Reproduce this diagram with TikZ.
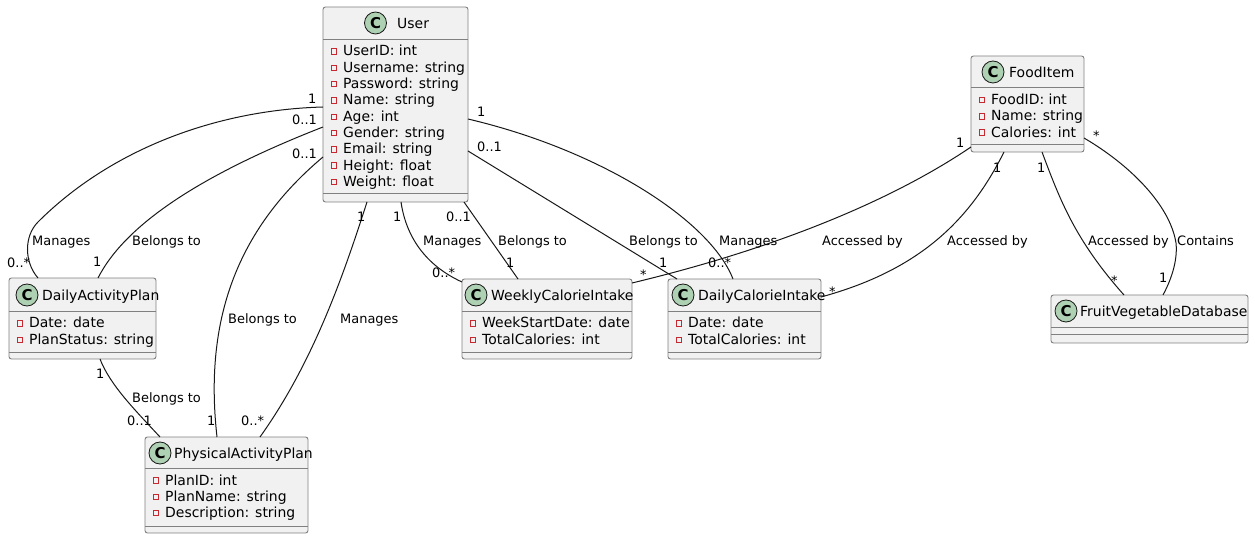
\documentclass[tikz,border=0pt]{standalone}
\usepackage{fontspec}
\setmainfont{DejaVu Sans}
\usetikzlibrary{calc,fit}
\definecolor{boxfill}{HTML}{F1F1F1}
\definecolor{boxline}{HTML}{181818}
\definecolor{boxedge}{HTML}{808080}
\definecolor{circfill}{HTML}{ADD1B2}
\definecolor{privred}{HTML}{C82930}
\newcommand\umlattr[4]{%
  \draw[privicon] (#2+8.25,#3-7.25) rectangle (#2+13.75,#3-1.75);
  \node[attrtxt] (#1) at (#2+20,#3) {#4};}
\newcommand\umlseps[3]{%
  \draw[sepline] ($(#1.north west)+(0,#2)$) -- ($(#1.north east)+(0,#2)$);
  \draw[sepline] ($(#1.north west)+(0,#3)$) -- ($(#1.north east)+(0,#3)$);}
\newcommand\lbl[4]{\node[lbltxt] (#1) at (#2,#3) {#4};}
\begin{document}
\begin{tikzpicture}[x=1bp,y=-1bp,
  clsbox/.style={draw=boxedge, line width=0.9bp, fill=boxfill, rounded corners=2.5bp, inner sep=0pt, outer sep=0pt},
  sepline/.style={draw=boxedge, line width=0.9bp},
  circ/.style={circle, draw=boxline, line width=0.8bp, fill=circfill, minimum size=22bp, inner sep=0pt, font=\fontsize{15}{15}\selectfont\bfseries},
  nametxt/.style={anchor=base west, inner sep=0pt, font=\fontsize{14}{16}\selectfont},
  attrtxt/.style={anchor=base west, inner sep=0pt, font=\fontsize{14}{16}\selectfont},
  privicon/.style={draw=privred, line width=0.8bp},
  lbltxt/.style={anchor=base west, inner sep=0pt, font=\fontsize{13}{15}\selectfont},
  assoc/.style={draw=boxline, line width=1bp},
]
\useasboundingbox (0,0) rectangle (1255,540);

% ---------- classes ----------
% User
\node[clsbox, fit={(323,7) (468,202)}] (user) {};
\umlseps{user}{32}{186}
\node[circ] (userC) at (375.5,23) {C};
\node[nametxt] (userN) at (397,28.5) {User};
\umlattr{ua1}{323}{56}{UserID: int}
\umlattr{ua2}{323}{72.3}{Username: string}
\umlattr{ua3}{323}{88.6}{Password: string}
\umlattr{ua4}{323}{104.9}{Name: string}
\umlattr{ua5}{323}{121.2}{Age: int}
\umlattr{ua6}{323}{137.5}{Gender: string}
\umlattr{ua7}{323}{153.8}{Email: string}
\umlattr{ua8}{323}{170.1}{Height: float}
\umlattr{ua9}{323}{186.4}{Weight: float}

% DailyActivityPlan
\node[clsbox, fit={(9,278) (156,359)}] (dap) {};
\umlseps{dap}{33}{74}
\node[circ] (dapC) at (27,295) {C};
\node[nametxt] (dapN) at (42,300.5) {DailyActivityPlan};
\umlattr{da1}{9}{328}{Date: date}
\umlattr{da2}{9}{344.3}{PlanStatus: string}

% PhysicalActivityPlan
\node[clsbox, fit={(145,437) (308,533)}] (pap) {};
\umlseps{pap}{31}{89}
\node[circ] (papC) at (160,453) {C};
\node[nametxt] (papN) at (174,458.5) {PhysicalActivityPlan};
\umlattr{pa1}{145}{485}{PlanID: int}
\umlattr{pa2}{145}{501.3}{PlanName: string}
\umlattr{pa3}{145}{517.6}{Description: string}

% WeeklyCalorieIntake
\node[clsbox, fit={(462,279) (632,359)}] (wci) {};
\umlseps{wci}{32}{73}
\node[circ] (wciC) at (476,295) {C};
\node[nametxt] (wciN) at (491,300.5) {WeeklyCalorieIntake};
\umlattr{wa1}{462}{328}{WeekStartDate: date}
\umlattr{wa2}{462}{344.3}{TotalCalories: int}

% DailyCalorieIntake
\node[clsbox, fit={(668,279) (821,359)}] (dci) {};
\umlseps{dci}{32}{73}
\node[circ] (dciC) at (683,295) {C};
\node[nametxt] (dciN) at (698,300.5) {DailyCalorieIntake};
\umlattr{dc1}{668}{328}{Date: date}
\umlattr{dc2}{668}{344.3}{TotalCalories: int}

% FoodItem
\node[clsbox, fit={(971,56) (1084,152)}] (food) {};
\umlseps{food}{31}{88}
\node[circ] (foodC) at (993,72) {C};
\node[nametxt] (foodN) at (1009,77.5) {FoodItem};
\umlattr{fa1}{971}{104.5}{FoodID: int}
\umlattr{fa2}{971}{120.8}{Name: string}
\umlattr{fa3}{971}{137.1}{Calories: int}

% FruitVegetableDatabase
\node[clsbox, fit={(1051,295) (1248,343)}] (fvd) {};
\umlseps{fvd}{32}{39}
\node[circ] (fvdC) at (1066,311) {C};
\node[nametxt] (fvdN) at (1080,316.5) {FruitVegetableDatabase};

% ---------- associations (node to node) ----------
\draw[assoc] ($(user.north west)+(0,100)$) .. controls (215,110) and (110,150) .. (38,222) .. controls (24,236) and (24,262) .. ($(dap.north west)+(29,0)$);
\draw[assoc] ($(user.north west)+(0,120)$) .. controls (200,175) and (125,225) .. ($(dap.north west)+(89,0)$);
\draw[assoc] ($(user.north west)+(0,150)$) .. controls (230,235) and (205,330) .. ($(pap.north west)+(72,0)$);
\draw[assoc] ($(user.south west)+(44,0)$) .. controls (345,270) and (315,360) .. ($(pap.north west)+(115,0)$);
\draw[assoc] ($(user.south west)+(78,0)$) .. controls (408,250) and (440,272) .. ($(wci.north west)+(0,3)$);
\draw[assoc] ($(user.south west)+(141,0)$) -- ($(wci.north west)+(56,0)$);
\draw[assoc] ($(user.north east)+(0,144)$) -- ($(dci.north west)+(9,0)$);
\draw[assoc] ($(user.north east)+(0,112)$) .. controls (600,150) and (710,220) .. ($(dci.north west)+(65,0)$);
\draw[assoc] ($(food.north west)+(0,91)$) .. controls (900,195) and (790,245) .. ($(wci.north east)+(0,4)$);
\draw[assoc] ($(food.south west)+(33,0)$) .. controls (970,220) and (920,270) .. ($(dci.north east)+(0,18)$);
\draw[assoc] ($(food.south west)+(71,0)$) .. controls (1060,200) and (1075,240) .. ($(fvd.north west)+(73,0)$);
\draw[assoc] ($(food.north east)+(0,82)$) .. controls (1130,165) and (1170,205) .. (1176,243) .. controls (1178,262) and (1170,282) .. ($(fvd.north west)+(112,0)$);
\draw[assoc] ($(dap.south west)+(91,0)$) .. controls (110,385) and (135,410) .. ($(pap.north west)+(15,0)$);

% ---------- labels ----------
\lbl{e1a}{308}{104}{1}
\lbl{e1b}{32}{246}{Manages}
\lbl{e1c}{7}{268}{0..*}
\lbl{e2a}{292}{125}{0..1}
\lbl{e2b}{132}{246}{Belongs to}
\lbl{e2c}{93}{267}{1}
\lbl{e3a}{292}{159}{0..1}
\lbl{e3b}{228}{324}{Belongs to}
\lbl{e3c}{207}{425}{1}
\lbl{e4a}{357}{222}{1}
\lbl{e4b}{340}{324}{Manages}
\lbl{e4c}{241}{425}{0..*}
\lbl{e5a}{393}{222}{1}
\lbl{e5b}{423}{246}{Manages}
\lbl{e5c}{432}{278}{0..*}
\lbl{e6a}{446}{222}{0..1}
\lbl{e6b}{498}{246}{Belongs to}
\lbl{e6c}{506}{268}{1}
\lbl{e7a}{477}{152}{0..1}
\lbl{e7b}{629}{246}{Belongs to}
\lbl{e7c}{659}{268}{1}
\lbl{e8a}{477}{117}{1}
\lbl{e8b}{719}{246}{Manages}
\lbl{e8c}{708}{268}{0..*}
\lbl{e9a}{956}{148}{1}
\lbl{e9b}{822}{246}{Accessed by}
\lbl{e9c}{640}{280}{*}
\lbl{e10a}{993}{173}{1}
\lbl{e10b}{947}{246}{Accessed by}
\lbl{e10c}{829}{296.5}{*}
\lbl{e11a}{1037}{173}{1}
\lbl{e11b}{1088}{246}{Accessed by}
\lbl{e11c}{1111}{285.5}{*}
\lbl{e12a}{1093}{140.5}{*}
\lbl{e12b}{1177}{246}{Contains}
\lbl{e12c}{1159}{283}{1}
\lbl{e13a}{96}{379}{1}
\lbl{e13b}{132}{402}{Belongs to}
\lbl{e13c}{127}{425}{0..1}
\end{tikzpicture}
\end{document}
